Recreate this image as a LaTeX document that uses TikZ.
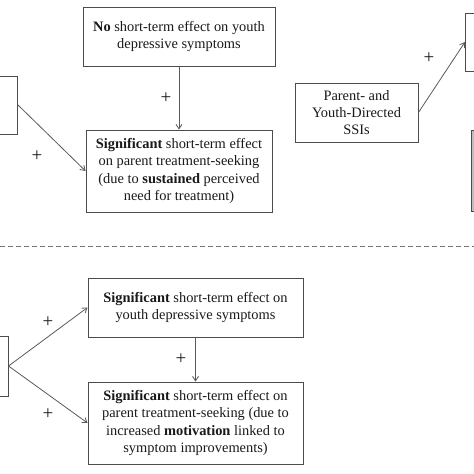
\documentclass[tikz,border=0pt]{standalone}
\usepackage{fontspec}
\setmainfont{Liberation Serif}
\usetikzlibrary{arrows.meta}
\begin{document}
\begin{tikzpicture}[x=1pt,y=-1pt,
  box/.style={draw=black!70,line width=0.9pt,align=center,inner sep=0pt,
    font=\fontsize{14.4}{17.4}\selectfont,text=black!90},
  conn/.style={draw=black!65,line width=0.8pt,-{Straight Barb[length=4.5pt,width=6pt]}},
  plus/.style={font=\fontsize{19}{19}\selectfont,text=black!90,inner sep=0pt}]
\useasboundingbox (0,0) rectangle (474,474);
\clip (0,0) rectangle (474,474);
% top section
\node[box,minimum width=192pt,minimum height=59pt] (t1) at (179,36.5)
  {\textbf{No} short-term effect on youth\\depressive symptoms};
\node[box,minimum width=186pt,minimum height=82pt] (t2) at (179,171)
  {\textbf{Significant} short-term effect\\on parent treatment-seeking\\(due to \textbf{sustained} perceived\\need for treatment)};
\node[box,minimum width=40pt,minimum height=58pt,anchor=east] (tl) at (18,105) {};
\node[box,minimum width=123pt,minimum height=59pt] (ssi) at (356.5,112.5)
  {Parent- and\\Youth-Directed\\SSIs};
\node[box,minimum width=40pt,minimum height=58pt,anchor=west] (tr) at (465,42) {};
\node[box,fill=black!25,minimum width=40pt,minimum height=81pt,anchor=west] (tr2) at (471,170.5) {};
\draw[conn] (tl.east) -- (t2.west);
\draw[conn] (t1.south) -- (t2.north);
\draw[conn] (ssi.east) -- (tr.west);
\node[plus] (p1) at (37,156) {+};
\node[plus] (p2) at (166,98) {+};
\node[plus] (p3) at (429,58) {+};
% divider
\coordinate (dl) at (0,246);
\coordinate (dr) at (474,246);
\draw[black!55,line width=0.9pt,dash pattern=on 5pt off 3pt] (dl) -- (dr);
% bottom section
\node[box,minimum width=215pt,minimum height=59pt] (b1) at (195.5,307.5)
  {\textbf{Significant} short-term effect on\\youth depressive symptoms};
\node[box,minimum width=215pt,minimum height=82pt] (b2) at (195.5,423)
  {\textbf{Significant} short-term effect on\\parent treatment-seeking (due to\\increased \textbf{motivation} linked to\\symptom improvements)};
\node[box,minimum width=40pt,minimum height=60pt,anchor=east] (bl) at (8.5,366) {};
\draw[conn] (bl.east) -- (b1.west);
\draw[conn] (bl.east) -- (b2.west);
\draw[conn] (b1.south) -- (b2.north);
\node[plus] (p4) at (48,322) {+};
\node[plus] (p5) at (48,414) {+};
\node[plus] (p6) at (181,359) {+};
\end{tikzpicture}
\end{document}
